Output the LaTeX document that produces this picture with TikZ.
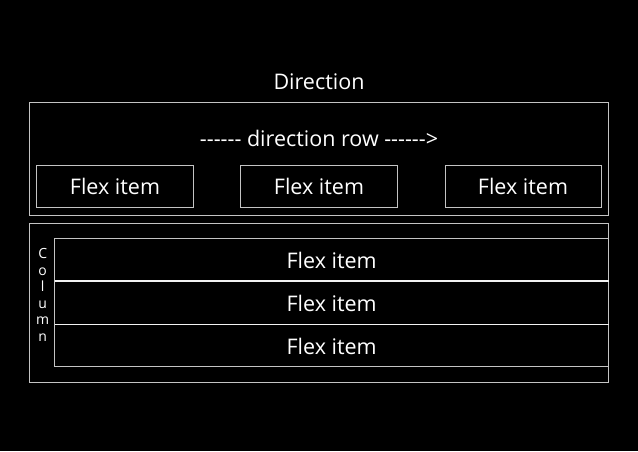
\documentclass[tikz,border=0pt]{standalone}
\usepackage{fontspec}
\setmainfont{Open Sans}
\definecolor{boxgray}{HTML}{C4C4C4}
\definecolor{sepwhite}{HTML}{F2F2F2}
\tikzset{
  box/.style={draw=boxgray, line width=0.9pt, inner sep=0pt, outer sep=0pt, text=white, font=\fontsize{21.5}{25}\selectfont},
  lbl/.style={text=white, inner sep=0pt, font=\fontsize{21.5}{25}\selectfont},
  sep/.style={draw=sepwhite, line width=1.1pt}
}
\begin{document}
\begin{tikzpicture}[x=1pt,y=-1pt]
\fill[black] (0,0) rectangle (638,451);
\useasboundingbox (0,0) rectangle (638,451);
% top container
\node[box, anchor=north west, minimum width=579.5pt, minimum height=113.5pt] (top) at (29.2,102) {};
\node[lbl] (dir) at (319,81.5) {Direction};
\node[lbl] (row) at (319,138) {-{}-{}-{}-{}-{}- direction row -{}-{}-{}-{}-{}->};
\node[box, minimum width=156.6pt, minimum height=42.4pt] (r1) at (115,186.5) {Flex item};
\node[box, minimum width=157.4pt, minimum height=42.4pt] (r2) at (319,186.5) {Flex item};
\node[box, minimum width=156pt, minimum height=42.4pt] (r3) at (523,186.5) {Flex item};
% bottom container
\node[box, anchor=north west, minimum width=579.5pt, minimum height=159pt] (bot) at (29.2,223.3) {};
\node[box, anchor=north west, minimum width=554pt, minimum height=128.4pt] (col) at (54.7,238.3) {};
\node[lbl] (c1) at (331.7,260.2) {Flex item};
\node[lbl] (c2) at (331.7,303.2) {Flex item};
\node[lbl] (c3) at (331.7,346) {Flex item};
\coordinate (s1a) at (54.7,281);
\coordinate (s1b) at (608.7,281);
\coordinate (s2a) at (54.7,324.3);
\coordinate (s2b) at (608.7,324.3);
\draw[sep] (s1a) -- (s1b);
\draw[sep] (s2a) -- (s2b);
\node[text=white, inner sep=0pt, align=center, font=\fontsize{14}{16.5}\selectfont] (colw) at (42.7,295) {C\\o\\l\\u\\m\\n};
\end{tikzpicture}
\end{document}
